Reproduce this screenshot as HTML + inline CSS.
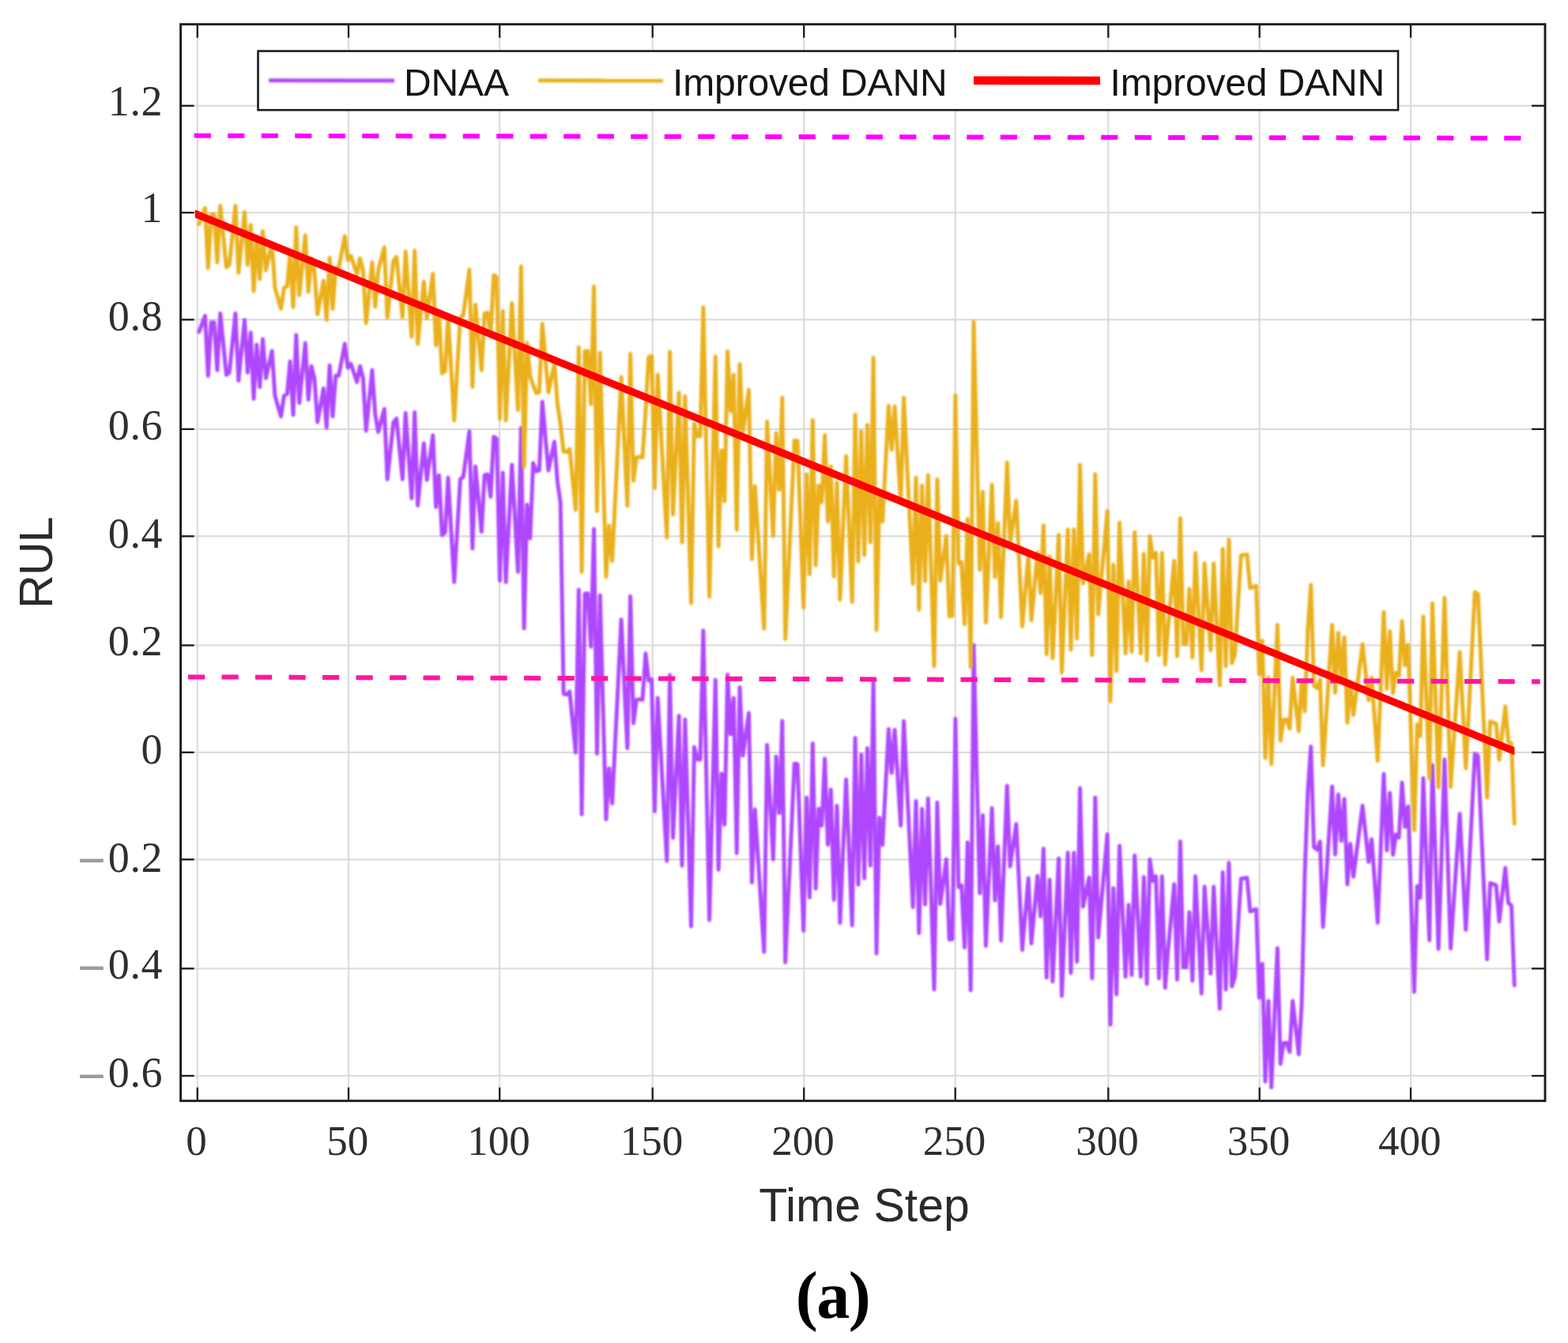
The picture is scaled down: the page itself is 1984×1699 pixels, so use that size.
<!DOCTYPE html>
<html lang="en">
<head>
<meta charset="utf-8">
<style>
html,body{margin:0;padding:0;background:#fff;}
body{width:1984px;height:1699px;overflow:hidden;position:relative;}
svg{position:absolute;left:0;top:0;display:block;}
.tk{font-family:"Liberation Serif","DejaVu Serif",serif;font-size:54px;letter-spacing:0.7px;fill:#2e2e2e;}
.tx{font-family:"Liberation Serif","DejaVu Serif",serif;font-size:53px;fill:#2e2e2e;}
.lg{font-family:"Liberation Sans","DejaVu Sans",sans-serif;font-size:48px;letter-spacing:-0.15px;fill:#141414;}
.ax{font-family:"Liberation Sans","DejaVu Sans",sans-serif;font-size:59px;fill:#2a2a2a;}
.cap{font-family:"Liberation Serif","DejaVu Serif",serif;font-weight:bold;font-size:84px;letter-spacing:-1.5px;fill:#000;}
</style>
</head>
<body>
<svg width="1984" height="1699" viewBox="0 0 1984 1699">
<defs>
<filter id="soft" filterUnits="userSpaceOnUse" x="0" y="0" width="1984" height="1699"><feGaussianBlur stdDeviation="1.15"/></filter>
<filter id="soft2" filterUnits="userSpaceOnUse" x="0" y="0" width="1984" height="1699"><feGaussianBlur stdDeviation="0.7"/></filter>
<filter id="soft3" filterUnits="userSpaceOnUse" x="0" y="0" width="1984" height="1699"><feGaussianBlur stdDeviation="0.45"/></filter>
</defs>
<rect x="0" y="0" width="1984" height="1699" fill="#ffffff"/>

<g stroke="#dcdcdc" stroke-width="2.2" fill="none">
<line x1="249.8" y1="30.7" x2="249.8" y2="1392.7"/>
<line x1="441.0" y1="30.7" x2="441.0" y2="1392.7"/>
<line x1="632.2" y1="30.7" x2="632.2" y2="1392.7"/>
<line x1="825.7" y1="30.7" x2="825.7" y2="1392.7"/>
<line x1="1017.2" y1="30.7" x2="1017.2" y2="1392.7"/>
<line x1="1208.7" y1="30.7" x2="1208.7" y2="1392.7"/>
<line x1="1402.3" y1="30.7" x2="1402.3" y2="1392.7"/>
<line x1="1593.7" y1="30.7" x2="1593.7" y2="1392.7"/>
<line x1="1785.0" y1="30.7" x2="1785.0" y2="1392.7"/>
<line x1="228.6" y1="133.8" x2="1955.0" y2="133.8"/>
<line x1="228.6" y1="269.0" x2="1955.0" y2="269.0"/>
<line x1="228.6" y1="404.4" x2="1955.0" y2="404.4"/>
<line x1="228.6" y1="542.9" x2="1955.0" y2="542.9"/>
<line x1="228.6" y1="678.4" x2="1955.0" y2="678.4"/>
<line x1="228.6" y1="816.4" x2="1955.0" y2="816.4"/>
<line x1="228.6" y1="951.8" x2="1955.0" y2="951.8"/>
<line x1="228.6" y1="1087.3" x2="1955.0" y2="1087.3"/>
<line x1="228.6" y1="1225.3" x2="1955.0" y2="1225.3"/>
<line x1="228.6" y1="1361.0" x2="1955.0" y2="1361.0"/>
</g>
<line x1="245.7" y1="171.6" x2="1924.6" y2="174.8" stroke="#ff00ff" stroke-width="6" stroke-dasharray="21.2 21.3" fill="none" filter="url(#soft2)"/>
<polyline points="251.8,419.8 255.6,409.7 259.5,399.6 263.3,475.3 267.2,407.7 271.0,407.7 274.9,468.3 278.7,396.6 282.6,435.5 286.4,474.3 290.2,471.3 294.1,433.9 297.9,396.6 301.8,481.4 305.6,443.0 309.5,404.7 313.3,471.3 317.2,420.8 321.0,504.6 324.8,436.0 328.7,489.5 332.5,428.9 336.4,478.4 340.2,461.2 344.1,444.0 347.9,500.6 351.7,513.7 355.6,526.8 359.4,500.6 363.3,498.6 367.1,457.2 371.0,524.8 374.8,423.8 378.7,509.7 382.5,471.8 386.3,433.9 390.2,505.6 394.0,463.2 397.9,479.4 401.7,533.9 405.6,512.7 409.4,491.5 413.2,541.0 417.1,462.2 420.9,526.8 424.8,475.3 428.6,475.3 432.5,455.1 436.3,434.9 440.2,465.2 444.0,460.2 447.8,471.8 451.7,483.4 455.5,463.2 459.4,478.4 463.2,545.0 467.1,506.6 470.9,468.3 474.8,524.3 478.6,546.6 482.4,532.0 486.3,517.4 490.1,606.2 494.0,570.4 497.8,534.5 501.7,529.5 505.5,567.8 509.3,606.2 513.2,522.4 517.0,576.4 520.9,630.4 524.7,521.4 528.6,639.5 532.4,600.1 536.3,560.8 540.1,607.2 543.9,578.9 547.8,550.7 551.6,641.5 555.5,601.2 559.3,676.9 563.2,673.8 567.0,604.2 570.8,670.3 574.7,736.4 578.5,671.3 582.4,606.2 586.2,603.2 590.1,574.4 593.9,545.6 597.8,694.0 601.6,590.0 605.4,631.4 609.3,672.8 613.1,601.2 617.0,600.1 620.8,628.4 624.7,552.7 628.5,554.7 632.4,734.4 636.2,598.1 640.0,736.4 643.9,662.2 647.7,588.0 651.6,655.7 655.4,723.3 659.3,541.6 663.1,795.0 666.9,638.5 670.8,680.9 674.6,585.7 678.5,596.1 682.3,595.1 686.2,508.3 690.0,551.7 693.9,595.1 697.7,576.9 701.5,558.7 705.4,609.6 709.2,635.9 713.1,877.8 716.9,878.6 720.8,874.9 724.6,913.5 728.4,952.0 732.3,746.1 736.1,1030.3 740.0,751.0 743.8,750.8 747.7,818.1 751.5,669.2 755.4,953.4 759.2,752.9 763.0,894.8 766.9,1036.6 770.7,971.9 774.6,1016.4 778.4,938.9 782.3,861.3 786.1,783.8 789.9,865.1 793.8,946.5 797.6,754.3 801.5,914.9 805.3,885.2 809.2,884.6 813.0,885.2 816.9,826.7 820.7,860.9 824.5,859.3 828.4,1026.5 832.2,882.9 836.1,951.7 839.9,1020.4 843.8,1089.1 847.6,854.1 851.5,1059.9 855.3,982.7 859.1,905.5 863.0,1095.2 866.8,910.3 870.7,1041.2 874.5,1172.0 878.4,945.1 882.2,960.6 886.0,960.9 889.9,797.7 893.7,980.8 897.6,1163.9 901.4,1012.0 905.3,860.1 909.1,1100.2 913.0,978.7 916.8,1043.3 920.6,853.6 924.5,928.8 928.3,883.1 932.2,1079.3 936.0,869.5 939.9,955.9 943.7,929.0 947.5,902.1 951.4,1116.5 955.2,1024.0 959.1,1084.1 962.9,1144.2 966.8,1204.3 970.6,942.4 974.5,1014.7 978.3,1087.1 982.1,956.9 986.0,1028.6 989.8,912.0 993.7,1217.4 997.5,1133.7 1001.4,1050.0 1005.2,966.3 1009.1,966.7 1012.9,1072.1 1016.7,1177.4 1020.6,1009.1 1024.4,1135.3 1028.3,940.5 1032.1,1124.2 1036.0,1023.3 1039.8,1044.5 1043.6,959.7 1047.5,1068.7 1051.3,999.0 1055.2,1138.4 1059.0,1019.2 1062.9,1167.6 1066.7,1076.8 1070.6,985.9 1074.4,1078.3 1078.2,1170.7 1082.1,933.4 1085.9,1119.2 1089.8,954.6 1093.6,1111.1 1097.5,946.5 1101.3,1094.9 1105.1,861.5 1109.0,1206.2 1112.8,1034.4 1116.7,1068.7 1120.5,995.5 1124.4,922.3 1128.2,977.8 1132.1,923.3 1135.9,983.9 1139.7,1044.5 1143.6,912.2 1147.4,990.7 1151.3,1069.2 1155.1,1147.6 1159.0,1013.2 1162.8,1180.5 1166.7,1023.3 1170.5,1144.1 1174.3,1010.1 1178.2,1131.0 1182.0,1251.8 1185.9,1015.2 1189.7,1143.6 1193.6,1115.2 1197.4,1086.9 1201.2,1188.5 1205.1,1188.2 1208.9,909.2 1212.8,1122.2 1216.6,1120.2 1220.5,1198.6 1224.3,1065.7 1228.2,1252.8 1232.0,816.1 1235.8,973.0 1239.7,1130.0 1243.5,1031.3 1247.4,1196.6 1251.2,1109.4 1255.1,1022.3 1258.9,1139.1 1262.7,1070.7 1266.6,1190.0 1270.4,1092.0 1274.3,994.0 1278.1,1096.2 1282.0,1069.3 1285.8,1042.4 1289.7,1122.1 1293.5,1201.7 1297.3,1156.4 1301.2,1111.1 1305.0,1193.6 1308.9,1150.8 1312.7,1108.1 1316.6,1159.3 1320.4,1073.7 1324.3,1236.7 1328.1,1113.1 1331.9,1241.7 1335.8,1163.8 1339.6,1085.9 1343.5,1259.9 1347.3,1169.3 1351.2,1078.8 1355.0,1230.9 1358.8,1078.8 1362.7,1216.8 1366.5,997.0 1370.4,1147.1 1374.2,1128.6 1378.1,1110.1 1381.9,1237.7 1385.8,1009.1 1389.6,1186.0 1393.4,1142.5 1397.3,1099.1 1401.1,1055.6 1405.0,1296.2 1408.8,1123.6 1412.7,1257.9 1416.5,1070.1 1420.3,1152.9 1424.2,1235.7 1428.0,1144.8 1431.9,1233.6 1435.7,1082.2 1439.6,1158.9 1443.4,1235.7 1447.3,1109.5 1451.1,1244.8 1454.9,1087.3 1458.8,1114.5 1462.6,1108.5 1466.5,1237.7 1470.3,1108.5 1474.2,1249.8 1478.0,1201.3 1481.9,1160.0 1485.7,1118.6 1489.5,1239.3 1493.4,1064.6 1497.2,1223.6 1501.1,1223.6 1504.9,1154.0 1508.8,1240.8 1512.6,1108.6 1516.4,1182.8 1520.3,1257.0 1524.1,1121.7 1528.0,1176.7 1531.8,1231.7 1535.7,1121.7 1539.5,1198.9 1543.4,1276.1 1547.2,1103.5 1551.0,1251.9 1554.9,1091.4 1558.7,1247.9 1562.6,1235.9 1566.4,1173.7 1570.3,1111.6 1574.1,1111.1 1577.9,1110.6 1581.8,1153.1 1585.6,1151.6 1589.5,1150.1 1593.3,1262.2 1597.2,1219.6 1601.0,1368.2 1604.9,1266.2 1608.7,1375.7 1612.5,1287.6 1616.4,1199.6 1620.2,1345.9 1624.1,1319.7 1627.9,1319.2 1631.8,1330.8 1635.6,1266.2 1639.5,1300.0 1643.3,1333.8 1647.1,1269.2 1651.0,1104.2 1654.8,1001.0 1658.7,944.6 1662.5,1071.6 1666.4,1074.8 1670.2,1064.7 1674.0,1172.7 1677.9,1113.5 1681.7,1054.3 1685.6,995.0 1689.4,1080.9 1693.3,1005.1 1697.1,1063.7 1701.0,1010.7 1704.8,1118.7 1708.6,1067.5 1712.5,1109.1 1716.3,1079.2 1720.2,1049.2 1724.0,1019.3 1727.9,1054.9 1731.7,1090.4 1735.5,1061.7 1739.4,1114.4 1743.2,1167.2 1747.1,1073.0 1750.9,978.9 1754.8,1075.8 1758.6,1003.1 1762.5,1081.4 1766.3,1055.8 1770.1,1059.5 1774.0,990.0 1777.8,1046.0 1781.7,1020.3 1785.5,1137.5 1789.4,1254.8 1793.2,1121.0 1797.1,1135.7 1800.9,984.4 1804.7,1086.9 1808.6,1189.4 1812.4,967.8 1816.3,1084.1 1820.1,1200.5 1824.0,1080.6 1827.8,960.7 1831.6,1080.4 1835.5,1200.0 1839.3,1143.1 1843.2,1086.2 1847.0,1029.4 1850.9,1102.8 1854.7,1176.3 1858.6,1102.1 1862.4,1027.9 1866.2,953.6 1870.1,955.7 1873.9,1041.7 1877.8,1127.6 1881.6,1213.6 1885.5,1117.2 1889.3,1118.7 1893.1,1120.2 1897.0,1165.7 1900.8,1131.8 1904.7,1098.0 1908.5,1142.3 1912.4,1145.5 1916.2,1246.4" fill="none" stroke="#ae46ff" stroke-width="5" stroke-linejoin="round" stroke-linecap="round" filter="url(#soft)"/>
<polyline points="251.8,283.5 255.6,273.4 259.5,263.3 263.3,339.0 267.2,271.3 271.0,271.3 274.9,331.9 278.7,260.2 282.6,299.1 286.4,338.0 290.2,335.0 294.1,297.6 297.9,260.2 301.8,345.0 305.6,306.7 309.5,268.3 313.3,335.0 317.2,284.5 321.0,368.3 324.8,299.6 328.7,353.1 332.5,292.5 336.4,342.0 340.2,324.9 344.1,307.7 347.9,364.2 351.7,377.4 355.6,390.5 359.4,364.2 363.3,362.2 367.1,320.8 371.0,388.5 374.8,287.5 378.7,373.3 382.5,335.5 386.3,297.6 390.2,369.3 394.0,326.9 397.9,343.0 401.7,397.5 405.6,376.3 409.4,355.1 413.2,404.6 417.1,325.9 420.9,390.5 424.8,339.0 428.6,339.0 432.5,318.8 436.3,298.6 440.2,328.9 444.0,323.8 447.8,335.5 451.7,347.1 455.5,326.9 459.4,342.0 463.2,408.7 467.1,370.3 470.9,331.9 474.8,388.0 478.6,342.1 482.4,327.5 486.3,312.8 490.1,401.7 494.0,365.8 497.8,330.0 501.7,325.0 505.5,363.3 509.3,401.7 513.2,317.9 517.0,371.9 520.9,425.9 524.7,316.9 528.6,435.0 532.4,395.6 536.3,356.3 540.1,402.7 543.9,374.4 547.8,346.2 551.6,437.0 555.5,396.6 559.3,472.4 563.2,469.3 567.0,399.7 570.8,465.8 574.7,531.9 578.5,466.8 582.4,401.7 586.2,398.7 590.1,369.9 593.9,341.1 597.8,489.5 601.6,385.5 605.4,426.9 609.3,468.3 613.1,396.6 617.0,395.6 620.8,423.9 624.7,348.2 628.5,350.2 632.4,529.9 636.2,393.6 640.0,531.9 643.9,457.7 647.7,383.5 651.6,451.2 655.4,518.8 659.3,337.1 663.1,590.5 666.9,434.0 670.8,476.4 674.6,486.8 678.5,497.3 682.3,496.2 686.2,409.4 690.0,452.8 693.9,496.2 697.7,478.1 701.5,459.9 705.4,510.8 709.2,537.1 713.1,571.1 716.9,571.8 720.8,568.2 724.6,606.7 728.4,645.2 732.3,439.3 736.1,723.6 740.0,444.2 743.8,444.0 747.7,511.3 751.5,362.4 755.4,646.6 759.2,446.2 763.0,588.0 766.9,729.9 770.7,665.1 774.6,709.7 778.4,632.1 782.3,554.6 786.1,477.0 789.9,558.4 793.8,639.7 797.6,447.5 801.5,608.2 805.3,578.4 809.2,577.9 813.0,578.4 816.9,519.9 820.7,451.9 824.5,450.3 828.4,617.5 832.2,473.9 836.1,542.7 839.9,611.4 843.8,680.1 847.6,445.0 851.5,650.9 855.3,573.7 859.1,496.5 863.0,686.2 866.8,501.3 870.7,632.2 874.5,763.0 878.4,536.1 882.2,551.6 886.0,551.9 889.9,388.7 893.7,571.8 897.6,754.9 901.4,603.0 905.3,451.1 909.1,691.2 913.0,569.7 916.8,634.2 920.6,444.5 924.5,519.8 928.3,474.1 932.2,670.3 936.0,460.5 939.9,546.8 943.7,520.0 947.5,493.1 951.4,707.5 955.2,614.9 959.1,675.1 962.9,735.2 966.8,795.3 970.6,533.4 974.5,605.7 978.3,678.1 982.1,547.9 986.0,619.6 989.8,503.0 993.7,808.4 997.5,724.7 1001.4,641.0 1005.2,557.3 1009.1,557.7 1012.9,663.0 1016.7,768.4 1020.6,600.1 1024.4,726.3 1028.3,531.5 1032.1,715.2 1036.0,614.2 1039.8,635.4 1043.6,550.6 1047.5,659.7 1051.3,590.0 1055.2,729.3 1059.0,610.2 1062.9,758.6 1066.7,667.8 1070.6,576.9 1074.4,669.3 1078.2,761.6 1082.1,524.4 1085.9,710.2 1089.8,545.6 1093.6,702.1 1097.5,537.5 1101.3,685.9 1105.1,452.5 1109.0,797.2 1112.8,625.4 1116.7,659.7 1120.5,586.5 1124.4,513.3 1128.2,568.8 1132.1,514.3 1135.9,574.9 1139.7,635.4 1143.6,503.2 1147.4,581.7 1151.3,660.1 1155.1,738.6 1159.0,604.2 1162.8,771.4 1166.7,614.2 1170.5,735.1 1174.3,601.1 1178.2,722.0 1182.0,842.8 1185.9,606.2 1189.7,734.6 1193.6,706.2 1197.4,677.9 1201.2,779.5 1205.1,779.2 1208.9,500.2 1212.8,713.2 1216.6,711.2 1220.5,789.6 1224.3,656.6 1228.2,843.8 1232.0,407.1 1235.8,564.0 1239.7,721.0 1243.5,622.3 1247.4,787.6 1251.2,700.4 1255.1,613.2 1258.9,730.0 1262.7,661.7 1266.6,781.0 1270.4,683.0 1274.3,585.0 1278.1,687.1 1282.0,660.3 1285.8,633.4 1289.7,713.0 1293.5,792.6 1297.3,747.4 1301.2,702.1 1305.0,784.6 1308.9,741.8 1312.7,699.1 1316.6,750.2 1320.4,664.7 1324.3,827.7 1328.1,704.1 1331.9,832.7 1335.8,754.8 1339.6,676.8 1343.5,850.9 1347.3,760.3 1351.2,669.8 1355.0,821.9 1358.8,669.8 1362.7,807.8 1366.5,588.0 1370.4,738.1 1374.2,719.6 1378.1,701.1 1381.9,828.7 1385.8,600.1 1389.6,777.0 1393.4,733.5 1397.3,690.0 1401.1,646.6 1405.0,887.2 1408.8,714.6 1412.7,848.9 1416.5,661.1 1420.3,743.9 1424.2,826.6 1428.0,735.8 1431.9,824.6 1435.7,673.2 1439.6,749.9 1443.4,826.6 1447.3,700.4 1451.1,835.7 1454.9,678.2 1458.8,705.5 1462.6,699.4 1466.5,828.7 1470.3,699.4 1474.2,840.8 1478.0,792.3 1481.9,751.0 1485.7,709.6 1489.5,830.2 1493.4,655.6 1497.2,814.5 1501.1,814.6 1504.9,745.0 1508.8,831.8 1512.6,699.5 1516.4,773.7 1520.3,847.9 1524.1,712.7 1528.0,767.7 1531.8,822.7 1535.7,712.7 1539.5,789.9 1543.4,867.1 1547.2,694.5 1551.0,842.9 1554.9,682.4 1558.7,838.9 1562.6,826.9 1566.4,764.7 1570.3,702.6 1574.1,702.1 1577.9,701.6 1581.8,744.1 1585.6,742.6 1589.5,741.1 1593.3,853.1 1597.2,810.6 1601.0,959.1 1604.9,857.2 1608.7,966.7 1612.5,878.6 1616.4,790.5 1620.2,936.9 1624.1,910.7 1627.9,910.2 1631.8,921.8 1635.6,857.2 1639.5,891.0 1643.3,924.8 1647.1,860.2 1651.0,899.7 1654.8,796.4 1658.7,740.1 1662.5,867.1 1666.4,870.3 1670.2,860.2 1674.0,968.2 1677.9,909.0 1681.7,849.8 1685.6,790.5 1689.4,876.3 1693.3,800.6 1697.1,859.2 1701.0,806.2 1704.8,914.2 1708.6,863.0 1712.5,904.6 1716.3,874.7 1720.2,844.7 1724.0,814.8 1727.9,850.3 1731.7,885.9 1735.5,857.2 1739.4,909.9 1743.2,962.7 1747.1,868.5 1750.9,774.4 1754.8,871.3 1758.6,798.6 1762.5,876.9 1766.3,851.2 1770.1,855.0 1774.0,785.5 1777.8,841.5 1781.7,815.8 1785.5,933.0 1789.4,1050.3 1793.2,916.5 1797.1,931.2 1800.9,779.9 1804.7,882.4 1808.6,984.9 1812.4,763.3 1816.3,879.6 1820.1,996.0 1824.0,876.1 1827.8,756.2 1831.6,875.8 1835.5,995.5 1839.3,938.6 1843.2,881.7 1847.0,824.9 1850.9,898.3 1854.7,971.8 1858.6,897.5 1862.4,823.3 1866.2,749.1 1870.1,751.2 1873.9,837.1 1877.8,923.1 1881.6,1009.1 1885.5,912.7 1889.3,914.2 1893.1,915.7 1897.0,961.2 1900.8,927.3 1904.7,893.5 1908.5,937.8 1912.4,941.0 1916.2,1041.9" fill="none" stroke="#eab01c" stroke-width="5" stroke-linejoin="round" stroke-linecap="round" filter="url(#soft)"/>
<line x1="238" y1="856.4" x2="1948.7" y2="862.3" stroke="#ff14a3" stroke-width="6" stroke-dasharray="21.2 21.3" fill="none" filter="url(#soft2)"/>
<polygon points="246.8,265.3 1916.3,945.2 1916.3,955.3 246.8,275.4" fill="#ff0000" filter="url(#soft2)"/>
<g stroke="#1c1c1c" stroke-width="2.3" fill="none">
<line x1="249.8" y1="1392.7" x2="249.8" y2="1375.7"/>
<line x1="249.8" y1="30.7" x2="249.8" y2="47.7"/>
<line x1="441.0" y1="1392.7" x2="441.0" y2="1375.7"/>
<line x1="441.0" y1="30.7" x2="441.0" y2="47.7"/>
<line x1="632.2" y1="1392.7" x2="632.2" y2="1375.7"/>
<line x1="632.2" y1="30.7" x2="632.2" y2="47.7"/>
<line x1="825.7" y1="1392.7" x2="825.7" y2="1375.7"/>
<line x1="825.7" y1="30.7" x2="825.7" y2="47.7"/>
<line x1="1017.2" y1="1392.7" x2="1017.2" y2="1375.7"/>
<line x1="1017.2" y1="30.7" x2="1017.2" y2="47.7"/>
<line x1="1208.7" y1="1392.7" x2="1208.7" y2="1375.7"/>
<line x1="1208.7" y1="30.7" x2="1208.7" y2="47.7"/>
<line x1="1402.3" y1="1392.7" x2="1402.3" y2="1375.7"/>
<line x1="1402.3" y1="30.7" x2="1402.3" y2="47.7"/>
<line x1="1593.7" y1="1392.7" x2="1593.7" y2="1375.7"/>
<line x1="1593.7" y1="30.7" x2="1593.7" y2="47.7"/>
<line x1="1785.0" y1="1392.7" x2="1785.0" y2="1375.7"/>
<line x1="1785.0" y1="30.7" x2="1785.0" y2="47.7"/>
<line x1="228.6" y1="133.8" x2="245.6" y2="133.8"/>
<line x1="1955.0" y1="133.8" x2="1938.0" y2="133.8"/>
<line x1="228.6" y1="269.0" x2="245.6" y2="269.0"/>
<line x1="1955.0" y1="269.0" x2="1938.0" y2="269.0"/>
<line x1="228.6" y1="404.4" x2="245.6" y2="404.4"/>
<line x1="1955.0" y1="404.4" x2="1938.0" y2="404.4"/>
<line x1="228.6" y1="542.9" x2="245.6" y2="542.9"/>
<line x1="1955.0" y1="542.9" x2="1938.0" y2="542.9"/>
<line x1="228.6" y1="678.4" x2="245.6" y2="678.4"/>
<line x1="1955.0" y1="678.4" x2="1938.0" y2="678.4"/>
<line x1="228.6" y1="816.4" x2="245.6" y2="816.4"/>
<line x1="1955.0" y1="816.4" x2="1938.0" y2="816.4"/>
<line x1="228.6" y1="951.8" x2="245.6" y2="951.8"/>
<line x1="1955.0" y1="951.8" x2="1938.0" y2="951.8"/>
<line x1="228.6" y1="1087.3" x2="245.6" y2="1087.3"/>
<line x1="1955.0" y1="1087.3" x2="1938.0" y2="1087.3"/>
<line x1="228.6" y1="1225.3" x2="245.6" y2="1225.3"/>
<line x1="1955.0" y1="1225.3" x2="1938.0" y2="1225.3"/>
<line x1="228.6" y1="1361.0" x2="245.6" y2="1361.0"/>
<line x1="1955.0" y1="1361.0" x2="1938.0" y2="1361.0"/>
</g>
<rect x="228.6" y="30.7" width="1726.4" height="1362.0" fill="none" stroke="#1c1c1c" stroke-width="2.9"/>
<text class="tx" x="248.6" y="1461.2" text-anchor="middle">0</text>
<text class="tx" x="439.8" y="1461.2" text-anchor="middle">50</text>
<text class="tx" x="631.0" y="1461.2" text-anchor="middle">100</text>
<text class="tx" x="824.5" y="1461.2" text-anchor="middle">150</text>
<text class="tx" x="1016.0" y="1461.2" text-anchor="middle">200</text>
<text class="tx" x="1207.5" y="1461.2" text-anchor="middle">250</text>
<text class="tx" x="1401.1" y="1461.2" text-anchor="middle">300</text>
<text class="tx" x="1592.5" y="1461.2" text-anchor="middle">350</text>
<text class="tx" x="1783.8" y="1461.2" text-anchor="middle">400</text>
<text class="tk" x="206.3" y="145.6" text-anchor="end">1.2</text>
<text class="tk" x="206.3" y="281.0" text-anchor="end">1</text>
<text class="tk" x="206.3" y="418.4" text-anchor="end">0.8</text>
<text class="tk" x="206.3" y="556.2" text-anchor="end">0.6</text>
<text class="tk" x="206.3" y="692.8" text-anchor="end">0.4</text>
<text class="tk" x="206.3" y="828.9" text-anchor="end">0.2</text>
<text class="tk" x="206.3" y="966.0" text-anchor="end">0</text>
<text class="tk" x="206.3" y="1102.6" text-anchor="end"><tspan style="font-size:64px;font-weight:bold;fill:#9c9c9c;letter-spacing:2.5px" dy="7.6">−</tspan><tspan dy="-7.6">0.2</tspan></text>
<text class="tk" x="206.3" y="1238.4" text-anchor="end"><tspan style="font-size:64px;font-weight:bold;fill:#9c9c9c;letter-spacing:2.5px" dy="7.6">−</tspan><tspan dy="-7.6">0.4</tspan></text>
<text class="tk" x="206.3" y="1375.4" text-anchor="end"><tspan style="font-size:64px;font-weight:bold;fill:#9c9c9c;letter-spacing:2.5px" dy="7.6">−</tspan><tspan dy="-7.6">0.6</tspan></text>
<text class="ax" x="1093.5" y="1544.8" text-anchor="middle">Time Step</text>
<text class="ax" transform="translate(66.2,712.0) rotate(-90)" text-anchor="middle" style="letter-spacing:-0.8px">RUL</text>
<text class="cap" x="1053.5" y="1667" text-anchor="middle">(a)</text>
<rect x="326.5" y="64.6" width="1442.5" height="74.6" fill="#ffffff" stroke="#1c1c1c" stroke-width="2.6"/>
<line x1="340.2" y1="101.8" x2="499" y2="102" stroke="#ae46ff" stroke-width="5" filter="url(#soft)"/>
<text class="lg" x="511" y="121.4">DNAA</text>
<line x1="681" y1="101.8" x2="839" y2="102" stroke="#eab01c" stroke-width="5" filter="url(#soft)"/>
<text class="lg" x="851" y="121.4">Improved DANN</text>
<line x1="1232" y1="101.8" x2="1392" y2="102" stroke="#ff0000" stroke-width="10.6" filter="url(#soft2)"/>
<text class="lg" x="1404.5" y="121.4">Improved DANN</text>
</svg>
</body>
</html>
